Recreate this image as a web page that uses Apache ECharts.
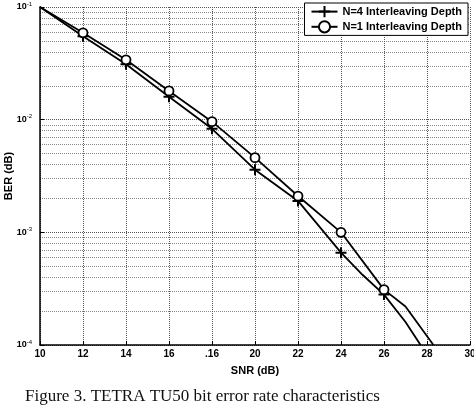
<!DOCTYPE html><html><head><meta charset="utf-8">
<script src="https://cdn.jsdelivr.net/npm/echarts@6/dist/echarts.min.js"></script>
<style>html,body{margin:0;background:#fff}#c{width:474px;height:406px}</style></head><body><div id="c"></div>
<script>
const snrN4 = [10, 12, 14, 16, 18, 20, 22, 24, 25, 26, 27, 27.7];
const berN4 = [0.1, 0.055, 0.031, 0.016, 0.0083, 0.0036, 0.0019, 0.00066, 0.00042, 0.00028, 0.00016, 0.0001];
const snrN1 = [10, 12, 14, 16, 18, 20, 22, 24, 26, 27, 28.3];
const berN1 = [0.1, 0.059, 0.034, 0.018, 0.0096, 0.0046, 0.0021, 0.0010, 0.00031, 0.00022, 0.0001];
const markedX = [12, 14, 16, 18, 20, 22, 24, 26];
const xTicks = ['10','12','14','16','.16','20','22','24','26','28','30'];
const caption = 'Figure 3. TETRA TU50 bit error rate characteristics';
function mk(xs, ys) { return xs.map((x,i)=>markedX.includes(x)?{value:[x,ys[i]]}:{value:[x,ys[i]],symbol:'none'}); }
const ch = echarts.init(document.getElementById('c'));
const exps = {'0.1':'-1','0.01':'-2','0.001':'-3','0.0001':'-4'};
ch.setOption({
  animation:false,
  grid:{left:40,right:4,top:7,bottom:61,outerBoundsMode:'none',containLabel:false},
  title:{text:caption,left:20,bottom:-4,textStyle:{fontFamily:'Liberation Serif',fontSize:17,fontWeight:'normal',color:'#111'}},
  legend:{top:3,right:6,orient:'vertical',backgroundColor:'#fff',borderColor:'#000',borderWidth:1,padding:[2,6],itemGap:2,itemWidth:26,
    textStyle:{fontFamily:'Liberation Sans',fontWeight:'bold',fontSize:11,color:'#000'}},
  xAxis:{type:'value',min:10,max:30,interval:2,name:'SNR (dB)',nameLocation:'middle',nameGap:20,
    nameTextStyle:{fontFamily:'Liberation Sans',fontWeight:'bold',fontSize:11,color:'#000'},
    axisLine:{lineStyle:{color:'#000',width:1.5}},axisTick:{inside:true,length:4,lineStyle:{color:'#000'}},
    axisLabel:{formatter:(v)=>xTicks[(v-10)/2],fontFamily:'Liberation Sans',fontWeight:'bold',fontSize:10,color:'#000',margin:4},
    splitLine:{show:true,lineStyle:{type:'dotted',color:'#555'}}},
  yAxis:{type:'log',min:0.0001,max:0.1,logBase:10,name:'BER (dB)',nameLocation:'middle',nameGap:26,nameMoveOverlap:false,
    nameTextStyle:{fontFamily:'Liberation Sans',fontWeight:'bold',fontSize:11,color:'#000'},
    axisLine:{show:true,lineStyle:{color:'#000',width:1.5}},axisTick:{inside:true,length:4,lineStyle:{color:'#000'}},
    axisLabel:{formatter:(v)=>'{b|10}{s|'+(exps[String(v)]||'')+'}',rich:{b:{fontFamily:'Liberation Sans',fontWeight:'bold',fontSize:9,color:'#000'},s:{fontSize:6,verticalAlign:'top',padding:[0,0,6,0],color:'#000'}}},
    splitLine:{show:true,lineStyle:{type:'dotted',color:'#555'}},
    minorTick:{show:false,splitNumber:9},minorSplitLine:{show:true,lineStyle:{type:'dotted',color:'#888'}}},
  series:[
    {name:'N=4 Interleaving Depth',type:'line',data:mk(snrN4,berN4),symbol:'path://M0,-6L0,6M-6,0L6,0',symbolSize:11,
      lineStyle:{color:'#000',width:1.8},itemStyle:{color:'#000',borderColor:'#000',borderWidth:2}},
    {name:'N=1 Interleaving Depth',type:'line',data:mk(snrN1,berN1),symbol:'circle',symbolSize:9,
      lineStyle:{color:'#000',width:1.8},itemStyle:{color:'#fff',borderColor:'#000',borderWidth:1.8}}
  ]
});
</script></body></html>
